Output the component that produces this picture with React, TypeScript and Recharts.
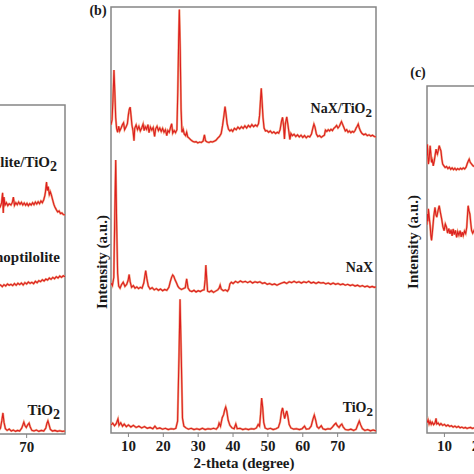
import { LineChart, Line, XAxis, YAxis, ReferenceArea } from "recharts";

// 2-theta (deg), intensity (a.u., offset per trace)
const tio2B = [
  [5.0, 1.9], [5.5, 2.3], [6.0, 1.7], [6.5, 2.2], [7.0, 3.3], [7.3, 1.8], [7.8, 2.4], [8.3, 1.6], [8.8, 2.1], [9.4, 1.5],
  [10.0, 1.9], [10.7, 1.4], [11.4, 1.8], [12.2, 1.3], [13.0, 1.6], [13.8, 1.2], [14.6, 1.5], [15.4, 1.1], [16.2, 1.3], [17.0, 1.0],
  [17.6, 1.6], [18.2, 1.0], [19.0, 1.2], [19.8, 0.9], [20.6, 1.1], [21.4, 0.8], [22.2, 1.0], [23.0, 0.9], [23.6, 1.1], [24.1, 2.8],
  [24.5, 18], [24.8, 31.4], [25.1, 20], [25.5, 3.5], [25.9, 1.6], [26.5, 1.2], [27.2, 0.9], [28.0, 1.1], [28.8, 0.8], [29.6, 1.0],
  [30.4, 0.8], [31.2, 1.1], [32.0, 0.8], [32.8, 1.0], [33.6, 0.9], [34.4, 1.1], [35.2, 0.9], [35.7, 1.4], [36.0, 2.3], [36.4, 1.6],
  [36.9, 3.6], [37.3, 4.3], [37.6, 5.4], [37.9, 6.1], [38.2, 5.2], [38.6, 3.0], [39.1, 1.8], [39.7, 1.2], [40.3, 1.0], [40.8, 2.1],
  [41.2, 1.0], [42.0, 1.1], [42.8, 0.8], [43.6, 1.0], [44.4, 0.8], [45.2, 1.0], [46.0, 0.9], [46.7, 1.2], [47.2, 2.0], [47.6, 1.6],
  [47.9, 4.5], [48.2, 8.2], [48.5, 6.0], [48.8, 2.5], [49.2, 1.2], [49.9, 0.9], [50.7, 1.1], [51.5, 0.8], [52.3, 1.0], [53.0, 1.3],
  [53.5, 2.6], [53.9, 5.0], [54.2, 5.9], [54.5, 4.6], [54.8, 3.4], [55.1, 4.4], [55.4, 5.2], [55.7, 4.0], [56.1, 2.0], [56.6, 1.2],
  [57.4, 0.9], [58.2, 1.0], [59.0, 0.8], [59.8, 1.0], [60.5, 1.6], [61.0, 0.9], [61.8, 1.0], [62.4, 1.6], [62.9, 3.2], [63.3, 4.2],
  [63.7, 3.0], [64.1, 1.5], [64.6, 1.1], [65.3, 1.7], [65.8, 1.0], [66.5, 0.8], [67.2, 1.0], [67.9, 0.9], [68.5, 1.4], [69.1, 2.0],
  [69.5, 2.3], [69.9, 1.7], [70.4, 1.3], [70.8, 1.8], [71.2, 2.1], [71.6, 1.4], [72.2, 0.8], [73.0, 0.7], [73.8, 0.9], [74.6, 0.6],
  [75.3, 0.9], [75.8, 2.0], [76.2, 2.8], [76.6, 1.9], [77.1, 1.0], [77.8, 0.6], [78.6, 0.8], [79.4, 0.5], [80.2, 0.7], [81.0, 0.5],
];

const naxB = [
  [5.0, 35.2], [5.4, 34.6], [5.8, 36.5], [6.1, 52], [6.35, 64.1], [6.6, 50], [6.9, 37.5], [7.2, 34.5], [7.6, 34.0], [8.0, 34.8],
  [8.5, 35.4], [9.0, 34.4], [9.5, 34.9], [9.9, 35.8], [10.2, 37.2], [10.5, 35.5], [10.9, 34.2], [11.4, 34.6], [11.9, 34.0], [12.4, 34.3],
  [12.9, 33.9], [13.4, 34.2], [13.9, 34.0], [14.4, 35.2], [14.7, 36.8], [14.95, 38.1], [15.3, 36.2], [15.7, 34.5], [16.2, 33.8], [16.8, 34.1],
  [17.4, 33.6], [18.0, 33.9], [18.6, 33.5], [19.2, 33.8], [19.8, 33.4], [20.4, 33.7], [21.0, 33.5], [21.6, 34.2], [22.0, 35.5], [22.4, 36.6],
  [22.7, 37.1], [23.0, 36.8], [23.4, 35.9], [23.8, 35.2], [24.2, 34.4], [24.6, 34.0], [25.2, 33.7], [25.8, 33.9], [26.3, 34.1], [26.7, 36.2],
  [27.1, 34.0], [27.6, 33.4], [28.2, 33.2], [28.8, 33.5], [29.4, 33.1], [30.0, 33.4], [30.6, 33.2], [31.2, 33.5], [31.7, 33.6], [32.0, 36.0],
  [32.2, 39.4], [32.45, 36.3], [32.7, 33.3], [33.2, 33.1], [33.8, 33.4], [34.4, 33.0], [35.0, 33.3], [35.6, 33.6], [36.0, 34.0], [36.3, 34.7],
  [36.6, 33.8], [37.2, 33.4], [37.8, 33.6], [38.4, 33.3], [38.8, 33.8], [39.1, 35.0], [39.5, 35.4], [40.0, 35.1], [40.7, 35.6], [41.4, 35.3],
  [42.1, 35.7], [42.8, 35.4], [43.5, 35.6], [44.2, 35.3], [44.9, 35.6], [45.6, 35.2], [46.3, 35.5], [47.0, 35.3], [47.7, 35.5], [48.4, 35.1],
  [49.1, 35.3], [49.8, 34.9], [50.5, 35.1], [51.2, 34.8], [51.9, 35.0], [52.6, 34.7], [53.3, 35.0], [54.0, 35.2], [54.7, 35.4], [55.4, 35.1],
  [56.1, 35.5], [56.8, 35.3], [57.5, 35.6], [58.2, 35.3], [58.9, 35.5], [59.6, 35.2], [60.3, 35.5], [61.0, 35.3], [61.7, 35.6], [62.4, 35.2],
  [63.1, 35.4], [63.8, 35.1], [64.5, 35.4], [65.2, 35.2], [65.9, 35.3], [66.6, 35.0], [67.3, 35.2], [68.0, 34.9], [68.7, 35.2], [69.4, 34.9],
  [70.1, 35.1], [70.8, 34.8], [71.5, 35.0], [72.2, 34.7], [72.9, 34.9], [73.6, 34.6], [74.3, 34.8], [75.0, 34.5], [75.7, 34.7], [76.4, 34.4],
  [77.1, 34.6], [77.8, 34.3], [78.5, 34.5], [79.2, 34.2], [79.9, 34.4], [80.5, 34.2], [81.0, 34.3],
];

const naxTio2B = [
  [5.0, 72.3], [5.3, 73.5], [5.55, 78], [5.85, 85.2], [6.1, 80], [6.35, 74], [6.6, 71.5], [6.9, 70.6], [7.2, 72.0], [7.5, 70.9],
  [7.9, 71.6], [8.3, 72.4], [8.6, 72.8], [8.9, 71.2], [9.3, 71.8], [9.7, 72.6], [10.0, 74.8], [10.25, 76.0], [10.5, 76.5], [10.75, 74.5],
  [11.0, 72.3], [11.3, 71.0], [11.6, 68.6], [11.8, 71.5], [12.2, 72.3], [12.6, 71.2], [13.0, 72.0], [13.4, 70.9], [13.8, 71.6], [14.2, 72.5],
  [14.5, 71.0], [14.8, 71.9], [15.2, 71.3], [15.6, 72.4], [15.9, 70.5], [16.3, 71.8], [16.7, 71.1], [17.1, 71.7], [17.5, 69.6], [17.8, 71.4],
  [18.2, 72.0], [18.6, 71.0], [19.0, 71.6], [19.4, 70.8], [19.8, 71.5], [20.2, 70.6], [20.6, 71.2], [21.0, 69.8], [21.3, 71.0], [21.7, 70.6],
  [22.1, 71.8], [22.4, 72.6], [22.7, 70.4], [23.1, 71.0], [23.5, 70.5], [23.9, 71.2], [24.15, 80], [24.4, 92], [24.6, 99.4], [24.85, 90],
  [25.1, 76], [25.35, 70.6], [25.7, 71.3], [26.0, 70.2], [26.4, 69.8], [26.7, 70.6], [27.0, 69.5], [27.4, 69.2], [27.9, 68.8], [28.4, 68.5],
  [28.9, 68.3], [29.4, 68.4], [29.9, 68.1], [30.4, 68.3], [30.9, 68.2], [31.4, 68.5], [31.8, 70.0], [32.1, 68.6], [32.6, 68.3], [33.1, 68.2],
  [33.6, 68.4], [34.1, 68.3], [34.6, 68.5], [35.1, 68.7], [35.6, 69.2], [36.1, 69.6], [36.6, 70.3], [37.0, 72.2], [37.4, 74.6], [37.7, 76.6],
  [38.0, 74.8], [38.3, 72.6], [38.7, 71.3], [39.1, 70.9], [39.5, 71.2], [39.9, 70.8], [40.4, 71.5], [40.9, 71.2], [41.4, 71.8], [41.9, 71.4],
  [42.4, 71.9], [42.9, 71.5], [43.4, 72.1], [43.9, 71.6], [44.4, 72.2], [44.9, 71.8], [45.4, 72.4], [45.9, 71.9], [46.4, 72.3], [46.9, 72.0],
  [47.3, 72.6], [47.6, 74.5], [47.9, 78.5], [48.1, 80.9], [48.35, 77.5], [48.6, 74.0], [48.9, 71.6], [49.3, 70.9], [49.7, 71.0], [50.2, 70.6],
  [50.7, 70.9], [51.2, 70.4], [51.7, 70.7], [52.2, 70.3], [52.7, 70.6], [53.1, 70.4], [53.5, 71.2], [53.9, 73.2], [54.2, 74.1], [54.5, 72.0],
  [54.75, 69.0], [55.0, 72.5], [55.4, 74.2], [55.7, 72.6], [56.0, 70.8], [56.3, 68.9], [56.6, 70.3], [57.0, 69.8], [57.5, 70.1], [58.0, 69.6],
  [58.5, 70.0], [59.0, 69.5], [59.5, 69.9], [60.0, 69.4], [60.5, 69.8], [61.0, 69.3], [61.5, 69.7], [62.0, 69.5], [62.5, 70.2], [62.9, 71.6],
  [63.2, 72.5], [63.5, 71.8], [63.9, 70.2], [64.3, 69.6], [64.8, 69.8], [65.3, 69.4], [65.8, 69.7], [66.2, 69.9], [66.5, 71.1], [66.9, 70.8],
  [67.3, 71.2], [67.7, 70.9], [68.1, 71.3], [68.5, 71.0], [68.9, 71.5], [69.3, 71.8], [69.7, 72.2], [70.1, 71.6], [70.5, 72.0], [70.8, 72.6],
  [71.1, 73.1], [71.4, 72.5], [71.8, 71.7], [72.2, 70.9], [72.6, 71.2], [73.0, 70.6], [73.4, 70.9], [73.8, 70.5], [74.2, 70.8], [74.6, 70.6],
  [75.0, 71.0], [75.3, 71.6], [75.6, 72.0], [75.9, 72.5], [76.2, 71.6], [76.6, 70.8], [77.0, 70.3], [77.5, 70.0], [78.0, 70.2], [78.5, 69.8],
  [79.0, 70.0], [79.5, 69.7], [80.0, 69.9], [80.5, 69.6], [81.0, 69.5],
];

// panel (a), high-angle end
const clinoTio2A = [
  [60.0, 68.8], [60.6, 69.5], [61.2, 68.7], [61.8, 69.3], [62.4, 69.0], [62.8, 70.2], [63.1, 73.3], [63.3, 67.2], [63.5, 72.0], [63.8, 69.6],
  [64.2, 70.3], [64.6, 69.4], [65.0, 70.0], [65.5, 69.6], [65.9, 70.4], [66.2, 72.0], [66.5, 69.5], [66.9, 70.3], [67.3, 69.7], [67.7, 70.5],
  [68.1, 69.8], [68.5, 70.4], [68.9, 69.6], [69.3, 70.2], [69.7, 69.5], [70.1, 70.1], [70.5, 69.4], [70.9, 70.0], [71.3, 69.6], [71.7, 70.3],
  [72.1, 69.7], [72.5, 70.5], [72.9, 69.9], [73.3, 70.6], [73.7, 70.0], [74.1, 70.8], [74.5, 70.3], [74.9, 71.2], [75.2, 72.4], [75.4, 73.6],
  [75.7, 76.6], [75.9, 74.0], [76.2, 75.2], [76.5, 72.8], [76.8, 73.6], [77.1, 72.6], [77.5, 71.0], [77.8, 69.8], [78.1, 69.0], [78.5, 68.2],
  [78.9, 67.5], [79.3, 67.8], [79.7, 67.0], [80.1, 67.2], [80.5, 66.7], [81.0, 66.6],
];

const clinoA = [
  [60.0, 45.0], [60.5, 45.6], [61.0, 44.9], [61.5, 45.5], [62.0, 45.1], [62.5, 45.3], [63.0, 44.8], [63.5, 45.4], [64.0, 45.0], [64.5, 45.6],
  [65.0, 45.2], [65.5, 45.5], [66.0, 45.1], [66.5, 45.7], [67.0, 45.2], [67.5, 45.8], [68.0, 45.4], [68.5, 45.9], [69.0, 45.3], [69.5, 46.0],
  [70.0, 45.6], [70.5, 46.2], [71.0, 45.8], [71.5, 46.1], [72.0, 45.7], [72.5, 46.4], [73.0, 46.0], [73.5, 46.6], [74.0, 46.3], [74.5, 46.9],
  [75.0, 46.5], [75.5, 47.1], [76.0, 46.8], [76.5, 47.4], [77.0, 47.0], [77.5, 47.6], [78.0, 47.2], [78.5, 47.8], [79.0, 47.4], [79.5, 48.0],
  [80.0, 47.6], [80.5, 48.1], [81.0, 47.8],
];

const tio2A = [
  [60.0, 1.2], [60.7, 0.9], [61.4, 1.3], [62.0, 1.0], [62.5, 1.8], [62.9, 4.2], [63.2, 6.4], [63.5, 3.6], [63.9, 1.6], [64.4, 1.1],
  [65.0, 1.5], [65.6, 0.9], [66.2, 1.2], [66.8, 0.8], [67.4, 1.1], [68.0, 0.9], [68.6, 1.8], [69.0, 3.0], [69.2, 3.6], [69.5, 2.6],
  [69.9, 2.0], [70.3, 2.8], [70.7, 3.3], [71.0, 2.2], [71.5, 1.1], [72.1, 0.9], [72.8, 1.2], [73.5, 0.8], [74.2, 1.1], [74.9, 0.9],
  [75.5, 1.8], [75.8, 3.2], [76.1, 4.0], [76.4, 2.9], [76.8, 1.4], [77.4, 0.9], [78.1, 1.1], [78.8, 0.8], [79.5, 1.0], [80.2, 0.8],
  [81.0, 0.9],
];

// panel (c), low-angle end
const topC = [
  [5.0, 80.0], [5.1, 83.2], [5.25, 79.5], [5.4, 77.5], [5.6, 79.0], [5.9, 82.8], [6.1, 80.5], [6.3, 78.0], [6.55, 78.6], [6.8, 77.0],
  [7.1, 78.5], [7.4, 80.5], [7.6, 81.8], [7.8, 80.9], [8.0, 80.4], [8.25, 81.5], [8.5, 82.8], [8.75, 82.0], [9.0, 81.3], [9.25, 79.0],
  [9.5, 77.5], [9.85, 77.0], [10.2, 76.5], [10.6, 76.8], [11.0, 76.2], [11.4, 76.6], [11.8, 76.0], [12.2, 76.4], [12.6, 75.9], [13.0, 76.3],
  [13.4, 75.8], [13.8, 76.2], [14.2, 75.9], [14.6, 76.3], [15.0, 76.0], [15.4, 76.4], [15.8, 76.1], [16.2, 76.6], [16.6, 77.8], [16.9, 78.5],
  [17.1, 78.9], [17.4, 78.0], [17.8, 77.5], [18.2, 77.0], [18.6, 76.8], [19.0, 77.1], [19.5, 76.7], [20.0, 77.0], [20.5, 76.6], [21.0, 76.9],
];

const midC = [
  [5.0, 60.0], [5.1, 63.1], [5.25, 61.0], [5.4, 64.6], [5.65, 62.0], [5.9, 59.8], [6.1, 57.0], [6.3, 55.5], [6.6, 58.5], [6.95, 62.5],
  [7.3, 65.0], [7.55, 63.0], [7.8, 62.2], [8.15, 64.0], [8.5, 65.5], [8.85, 63.5], [9.2, 61.7], [9.55, 59.5], [9.9, 58.3], [10.25, 60.2],
  [10.6, 59.3], [10.9, 57.6], [11.25, 58.9], [11.6, 57.4], [11.9, 58.6], [12.2, 56.8], [12.5, 58.8], [12.8, 57.2], [13.15, 58.4], [13.5, 56.4],
  [13.8, 58.0], [14.15, 57.0], [14.5, 58.3], [14.8, 56.5], [15.1, 57.9], [15.4, 56.9], [15.75, 58.2], [16.1, 57.5], [16.4, 59.3], [16.6, 62.5],
  [16.8, 65.5], [17.05, 64.0], [17.3, 63.1], [17.55, 60.5], [17.8, 58.3], [18.1, 57.6], [18.5, 58.4], [18.9, 57.3], [19.3, 58.1], [19.7, 57.0],
  [20.1, 57.8], [20.5, 57.1], [21.0, 57.6],
];

const lowC = [
  [5.0, 2.9], [5.3, 3.8], [5.6, 2.6], [5.9, 3.3], [6.2, 2.5], [6.5, 3.1], [6.9, 2.4], [7.3, 2.9], [7.6, 4.2], [7.8, 2.6],
  [8.2, 2.9], [8.6, 2.3], [9.0, 2.7], [9.5, 2.2], [10.0, 2.5], [10.5, 2.0], [11.0, 2.3], [11.5, 1.9], [12.0, 2.1], [12.5, 1.7],
  [13.0, 2.0], [13.5, 1.6], [14.0, 1.9], [14.5, 1.5], [15.0, 1.7], [15.5, 1.4], [16.0, 1.6], [16.5, 1.3], [17.0, 1.5], [17.5, 1.6],
  [18.0, 1.3], [18.5, 1.5], [19.0, 1.2], [19.5, 1.4], [20.0, 1.2], [21.0, 1.3],
];

const ticksA = [70];
const ticksB = [10, 20, 30, 40, 50, 60, 70];
const ticksC = [10, 20];

const RED = "#dc1f1f";
const SALMON = "#f2a584";
const FRAME = "#858585";
const INK = "#1a1a1a";
const FONT = "'Liberation Serif', 'Times New Roman', serif";

const toPoints = (rows: number[][]) => rows.map(([x, y]) => ({ x, y }));

type PanelProps = {
  plotLeft: number;
  plotTop: number;
  plotHeight: number;
  ticks: number[];
  traces: number[][][];
};

const PLOT_W = 265;
const M = 30;
const AXIS_H = 30;

function Panel({ plotLeft, plotTop, plotHeight, ticks, traces }: PanelProps) {
  return (
    <div style={{ position: "absolute", left: plotLeft - M, top: plotTop - 10 }}>
      <LineChart
        width={PLOT_W + 2 * M}
        height={plotHeight + 10 + AXIS_H + 10}
        margin={{ top: 10, right: M, left: M, bottom: 10 }}
      >
        <XAxis
          type="number"
          dataKey="x"
          domain={[5, 81]}
          ticks={ticks}
          allowDataOverflow
          axisLine={false}
          tickLine={{ stroke: FRAME }}
          tickSize={4}
          tickMargin={3}
          height={AXIS_H}
          tick={{ fontFamily: FONT, fontSize: 15, fontWeight: "bold", fill: INK }}
        />
        <YAxis type="number" dataKey="y" domain={[0, 100]} hide />
        {traces.map((t, i) => (
          <Line
            key={`s${i}`}
            data={toPoints(t)}
            dataKey="y"
            type="linear"
            stroke={SALMON}
            strokeWidth={2.2}
            dot={false}
            isAnimationActive={false}
          />
        ))}
        {traces.map((t, i) => (
          <Line
            key={`r${i}`}
            data={toPoints(t)}
            dataKey="y"
            type="linear"
            stroke={RED}
            strokeWidth={1.1}
            dot={false}
            isAnimationActive={false}
          />
        ))}
        <ReferenceArea x1={5} x2={81} y1={0} y2={100} fill="none" stroke={FRAME} strokeWidth={1.5} />
      </LineChart>
    </div>
  );
}

const bold = { fontFamily: FONT, fontWeight: "bold" as const, fill: INK };

export default function App() {
  return (
    <div
      style={{
        position: "fixed",
        left: 0,
        top: 0,
        width: 474,
        height: 474,
        overflow: "hidden",
        background: "#fff",
      }}
    >
      <Panel plotLeft={-200} plotTop={105} plotHeight={329} ticks={ticksA} traces={[tio2A, clinoA, clinoTio2A]} />
      <Panel plotLeft={111} plotTop={7} plotHeight={426} ticks={ticksB} traces={[tio2B, naxB, naxTio2B]} />
      <Panel plotLeft={427} plotTop={86} plotHeight={347} ticks={ticksC} traces={[lowC, midC, topC]} />

      <svg width={474} height={474} style={{ position: "absolute", left: 0, top: 0, pointerEvents: "none" }}>
        {/* panel (a) labels */}
        <text x={57} y={167} textAnchor="end" fontSize={15} {...bold}>
          Clinoptilolite/TiO<tspan fontSize={14} dy={4}>2</tspan>
        </text>
        <text x={60} y={262} textAnchor="end" fontSize={15} {...bold}>
          Clinoptilolite
        </text>
        <text x={60} y={415} textAnchor="end" fontSize={15} {...bold}>
          TiO<tspan fontSize={14} dy={4}>2</tspan>
        </text>

        {/* panel (b) */}
        <text x={98} y={15} textAnchor="middle" fontSize={14} {...bold}>(b)</text>
        <text transform="translate(107,262) rotate(-90)" textAnchor="middle" fontSize={15} {...bold}>
          Intensity (a.u.)
        </text>
        <text x={372} y={113} textAnchor="end" fontSize={14} {...bold}>
          NaX/TiO<tspan fontSize={13} dy={4}>2</tspan>
        </text>
        <text x={373} y={272} textAnchor="end" fontSize={14} {...bold}>NaX</text>
        <text x={373} y={412} textAnchor="end" fontSize={14} {...bold}>
          TiO<tspan fontSize={13} dy={4}>2</tspan>
        </text>
        <text x={244} y={468} textAnchor="middle" fontSize={15} {...bold}>2-theta (degree)</text>

        {/* panel (c) */}
        <text x={418} y={77} textAnchor="middle" fontSize={14} {...bold}>(c)</text>
        <text transform="translate(418,242) rotate(-90)" textAnchor="middle" fontSize={15} {...bold}>
          Intensity (a.u.)
        </text>
      </svg>
    </div>
  );
}
